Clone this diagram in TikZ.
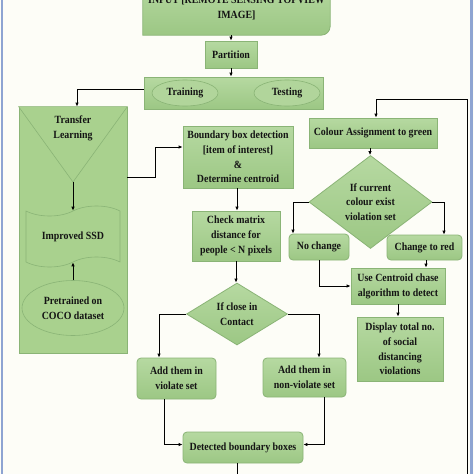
\documentclass[tikz,border=0pt]{standalone}
\usepackage{fontspec}
\setmainfont{Liberation Serif}[FakeStretch=0.9]
\usetikzlibrary{arrows.meta,shapes.geometric,shapes.symbols}
\definecolor{bg}{HTML}{FDFDF7}
\definecolor{gtop}{HTML}{B6D9A1}
\definecolor{gbot}{HTML}{9CC784}
\definecolor{gflat}{HTML}{A9D18E}
\definecolor{gborder}{HTML}{8AB476}
\definecolor{bordblue}{HTML}{8EA4D2}
\definecolor{txt}{HTML}{141414}
\tikzset{
  tfont/.style={font=\fontsize{11}{14.8}\selectfont\bfseries},
  box/.style={draw=gborder, line width=0.8pt, top color=gtop, bottom color=gbot,
    align=center, tfont, text=txt, inner sep=0pt},
  rbox/.style={box, rounded corners=4pt},
  flat/.style={draw=gborder, line width=0.6pt, fill=gflat, align=center,
    tfont, text=txt, inner sep=0pt},
  lbl/.style={align=center, tfont, text=txt, inner sep=0pt},
  arr/.style={-{Latex[length=4pt,width=3.5pt]}, line width=0.8pt, draw=black},
  ln/.style={line width=0.8pt, draw=black},
}
\begin{document}
\begin{tikzpicture}[x=1pt,y=-1pt]
\useasboundingbox (0,0) rectangle (474,474);
\fill[bg] (0,0) rectangle (474,474);
\fill[bordblue] (0.5,0) rectangle (3,474);
\fill[bordblue] (470,0) rectangle (473,474);

% input box (top cut off)
\node[minimum width=187pt, minimum height=54pt, inner sep=0pt] (inp) at (236.5,8) {};
\draw[draw=gborder, line width=0.8pt, top color=gtop, bottom color=gbot]
  (inp.north west) -- (inp.north east) -- ([yshift=9pt]inp.south east)
  to[out=-90,in=0] ([xshift=-9pt]inp.south east) -- (inp.south west) -- cycle;
\node[lbl] at (inp.center) {INPUT [REMOTE SENSING TOPVIEW\\IMAGE]};

\node[box, minimum width=52pt, minimum height=27pt] (part) at (231,54.5) {Partition};

\node[box, minimum width=179pt, minimum height=32pt] (tt) at (233.5,93) {};
\node[flat, ellipse, minimum width=66pt, minimum height=26pt, fill=gtop!80!gbot] (tr) at (185,93) {Training};
\node[flat, ellipse, minimum width=66pt, minimum height=26pt, fill=gtop!80!gbot] (te) at (287,93) {Testing};

% left column
\node[flat, line width=0.8pt, minimum width=108pt, minimum height=246pt] (tl) at (73,230) {};
\coordinate (apex) at (73,182);
\draw[draw=gborder, line width=0.6pt, fill=gflat] (tl.north west) -- (tl.north east) -- (apex) -- cycle;
\node[lbl] (tltext) at (73,128) {Transfer\\Learning};
\node[flat, tape, tape bend height=10pt, minimum width=94pt, minimum height=61pt] (ssd) at (73,236.5) {Improved SSD};
\node[flat, ellipse, minimum width=102pt, minimum height=55pt] (pre) at (73,308) {Pretrained on\\COCO dataset};

% middle column
\node[box, minimum width=110pt, minimum height=62pt] (bb) at (238,157)
  {Boundary box detection\\{[item of interest]}\\\&\\Determine centroid};
\node[box, minimum width=88pt, minimum height=50pt] (cm) at (236,236)
  {Check matrix\\distance for\\people < N pixels};
\node[box, diamond, minimum width=101pt, minimum height=62pt] (d1) at (237,314) {};
\node[lbl] at (d1.center) {If close in\\Contact};
\node[rbox, minimum width=79pt, minimum height=41pt] (vio) at (176.5,378.5) {Add them in\\violate set};
\node[rbox, minimum width=83pt, minimum height=39pt] (nvio) at (304.5,377.5) {Add them in\\non-violate set};
\node[rbox, minimum width=120pt, minimum height=31pt] (det) at (243,447.5) {Detected boundary boxes};

% right column
\node[box, minimum width=128pt, minimum height=30pt] (ca) at (373,133) {Colour Assignment to green};
\node[box, diamond, minimum width=123pt, minimum height=93pt] (d2) at (370.5,202) {};
\node[lbl] at (d2.center) {If current\\colour exist\\violation set};
\node[rbox, minimum width=60pt, minimum height=26pt] (nc) at (319,247) {No change};
\node[rbox, minimum width=75pt, minimum height=25pt] (cr) at (424.5,247.5) {Change to red};
\node[box, minimum width=94pt, minimum height=36pt] (uc) at (398,286) {Use Centroid chase\\algorithm to detect};
\node[box, minimum width=86pt, minimum height=64pt] (disp) at (400,349) {Display total no.\\of social\\distancing\\violations};

% connectors
\draw[arr] (inp.south -| part) -- (part.north);
\draw[arr] (part.south) -- (part.south |- tt.north);
\draw[arr] ([yshift=4pt]tt.west) -| ([xshift=4pt]tl.north);
\draw[arr] (apex) -- (ssd.north);
\draw[arr] (pre.north) -- (ssd.south);
\draw[arr] ([yshift=53pt]tl.east) -- ++(28,0) |- ([yshift=10pt]bb.west);
\draw[arr] ([xshift=-1pt]bb.south) -- ([xshift=-1pt]bb.south |- cm.north);
\draw[arr] (cm.south) -- (cm.south |- d1.north);
\draw[arr] (d1.west) -| ([xshift=-17.5pt]vio.north);
\draw[arr] (d1.east) -| ([xshift=14.5pt]nvio.north);
\draw[arr] ([xshift=-12.5pt]vio.south) |- ([yshift=3pt]det.west);
\draw[arr] ([xshift=19.5pt]nvio.south) |- ([yshift=3pt]det.east);
\coordinate (dend) at (237,476);
\draw[ln] (det.south -| dend) -- (dend);

\coordinate (loopb) at (467,476);
\coordinate (loopt) at (467,99);
\draw[arr] (loopb) -- (loopt) -| ([xshift=3pt]ca.north);
\draw[arr] ([xshift=-3pt]ca.south) -- ([xshift=-3pt]ca.south |- d2.north);
\draw[arr] (d2.west) -| ([xshift=-26pt]nc.north);
\draw[arr] (d2.east) -| ([xshift=19.5pt]cr.north);
\draw[arr] ([xshift=1.5pt]cr.south) -- ([xshift=1.5pt]cr.south |- uc.north);
\draw[arr] (nc.south) |- (uc.west);
\draw[arr] (uc.south) -- (uc.south |- disp.north);
\end{tikzpicture}
\end{document}
